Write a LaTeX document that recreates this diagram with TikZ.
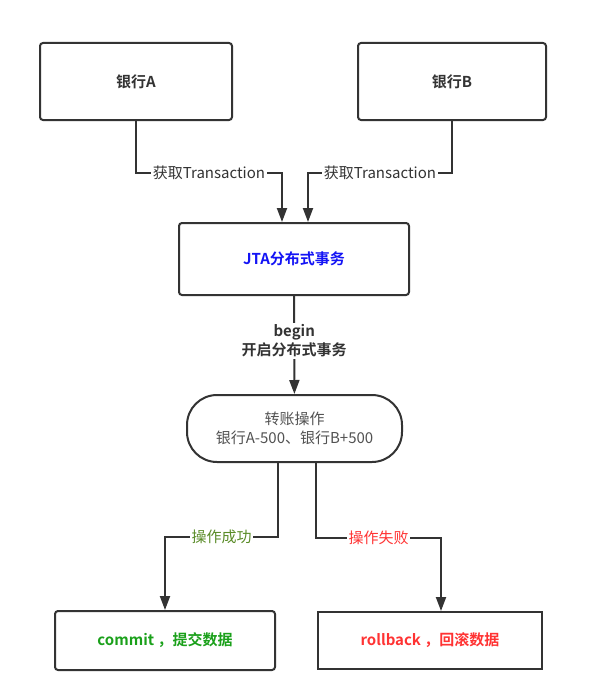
\documentclass[tikz,border=0pt]{standalone}
\usepackage{fontspec}
\setmainfont{Noto Sans CJK SC}[BoldFont={Noto Sans CJK SC Bold}]
\usetikzlibrary{arrows.meta}
\definecolor{ln}{HTML}{333333}
\definecolor{jtablue}{HTML}{1414F5}
\definecolor{okgreen}{HTML}{1AA01A}
\definecolor{okolive}{HTML}{5A8C28}
\definecolor{failred}{HTML}{FF3333}
\tikzset{
  box/.style={draw, rounded corners=3pt, fill=white, inner sep=0pt,
    font=\bfseries\fontsize{15}{18}\selectfont},
  lbl/.style={fill=white, inner sep=1.5pt, font=\fontsize{15}{18}\selectfont}
}
\begin{document}
\begin{tikzpicture}[x=1pt, y=-1pt, color=ln, line width=2pt,
    >={Triangle[length=14pt,width=10pt]}]
    \useasboundingbox (0,0) rectangle (593,693);
    \node (bankA) [box, minimum width=192pt, minimum height=77pt] at (136,81.5) {银行A};
    \node (bankB) [box, minimum width=188pt, minimum height=77pt] at (452,81.5) {银行B};
    \node (jta) [box, minimum width=230pt, minimum height=72pt, text=jtablue] at (294,259) {JTA分布式事务};
    \node (op) [box, rounded corners=30pt, minimum width=215pt, minimum height=67pt,
        align=center, font=\fontsize{15}{19}\selectfont, text=ln!85] at (294.5,428.5)
        {转账操作\\银行A-500、银行B+500};
    \node (commit) [box, minimum width=220pt, minimum height=59pt, text=okgreen] at (165,640.5) {commit ，提交数据};
    \node (rb) [box, rounded corners=0pt, minimum width=224pt, minimum height=57pt, text=failred] at (430,640.5) {rollback ，回滚数据};

    \draw[->] (bankA.south) -- ++(0,52) -| node[lbl, pos=0.25] {获取Transaction} ([xshift=-12pt]jta.north);
    \draw[->] (bankB.south) -- ++(0,52) -| node[lbl, pos=0.25] {获取Transaction} ([xshift=14pt]jta.north);
    \draw[->] (jta) -- node[lbl, align=center, font=\bfseries\fontsize{15}{19}\selectfont, pos=0.46] {begin\\开启分布式事务} (op);
    \draw[->] ([xshift=-16.5pt]op.south) -- ++(0,74) -| node[lbl, pos=0.25, text=okolive] {操作成功} (commit.north);
    \draw[->] ([xshift=21.5pt]op.south) -- ++(0,75) -| node[lbl, pos=0.25, text=failred] {操作失败} ([xshift=11pt]rb.north);
\end{tikzpicture}
\end{document}
